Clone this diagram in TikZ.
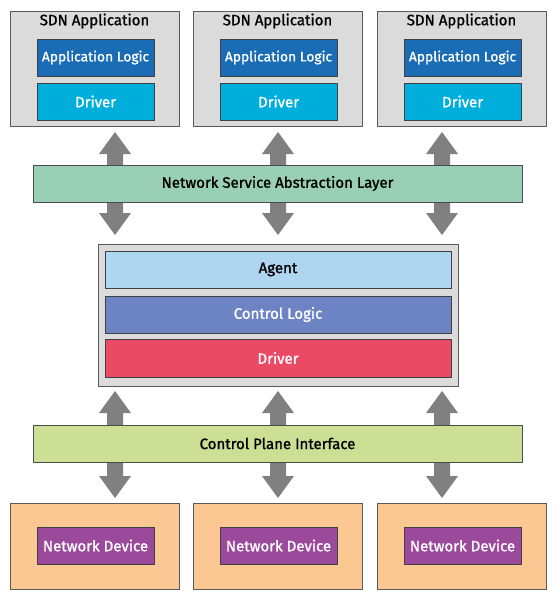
\documentclass[tikz,border=0pt]{standalone}
\usepackage{fontspec}
\setmainfont{Fira Sans}[BoldFont={Fira Sans},BoldFeatures={FakeBold=1.2}]
\begin{document}
\begin{tikzpicture}[x=1pt,y=-1pt,
  every node/.style={inner sep=0pt,font=\fontsize{15}{17}\selectfont\bfseries},
  outerbox/.style={draw=black!65,line width=0.8pt,fill=black!14},
  inbox/.style={draw=black!75,line width=0.7pt},
  layer/.style={draw=black!70,line width=0.7pt},
  wtext/.style={text=white},
  arrowgray/.style={fill=black!50}]
\definecolor{applogic}{HTML}{1A6DB5}
\definecolor{appdrv}{HTML}{00AEDB}
\definecolor{nsal}{HTML}{99CFB5}
\definecolor{agent}{HTML}{AED6F1}
\definecolor{ctrl}{HTML}{6C84C4}
\definecolor{mdrv}{HTML}{EA4A64}
\definecolor{cpi}{HTML}{CDDE95}
\definecolor{devbox}{HTML}{FBC894}
\definecolor{dev}{HTML}{9B4A9B}
\useasboundingbox[fill=white] (0,0) rectangle (557,600);
\newcommand{\dblarrow}[3]{% x, top, bottom
  \fill[arrowgray] (#1,#2) -- (#1+16,#2+22) -- (#1+8,#2+22) -- (#1+8,#3-22) -- (#1+16,#3-22) -- (#1,#3) -- (#1-16,#3-22) -- (#1-8,#3-22) -- (#1-8,#2+22) -- (#1-16,#2+22) -- cycle;}
% arrows
\foreach \cx in {115,278,442}{
  \dblarrow{\cx}{132}{235}
  \dblarrow{\cx}{391}{498}
}
% SDN applications
\foreach \i/\xa in {1/10,2/193,3/377}{
  \node[outerbox,minimum width=169,minimum height=115,anchor=north west] (app\i) at (\xa,11) {};
  \node (apptitle\i) at (\xa+84.5,21) {SDN Application};
  \node[inbox,fill=applogic,wtext,minimum width=117,minimum height=37,font=\fontsize{13.8}{16}\selectfont\bfseries] (logic\i) at (\xa+85.5,57.5) {Application Logic};
  \node[inbox,fill=appdrv,wtext,minimum width=117,minimum height=37] (adrv\i) at (\xa+85.5,101.5) {Driver};
}
% NSAL
\node[layer,fill=nsal,minimum width=489,minimum height=37] (nsal) at (277.5,183.5) {Network Service Abstraction Layer};
% Controller
\node[outerbox,minimum width=360,minimum height=142] (ctrlbox) at (278,315) {};
\node[inbox,fill=agent,minimum width=346,minimum height=37] (agentn) at (278,269.5) {Agent};
\node[inbox,fill=ctrl,wtext,minimum width=346,minimum height=37] (ctrln) at (278,314.5) {Control Logic};
\node[inbox,fill=mdrv,wtext,minimum width=346,minimum height=38] (mdrvn) at (278,358) {Driver};
% CPI
\node[layer,fill=cpi,minimum width=489,minimum height=37] (cpin) at (277.5,443.5) {Control Plane Interface};
% devices
\foreach \i/\xa in {1/10,2/193,3/377}{
  \node[outerbox,fill=devbox,minimum width=169,minimum height=86,anchor=north west] (devb\i) at (\xa,503) {};
  \node[inbox,fill=dev,wtext,minimum width=117,minimum height=37] (devn\i) at (\xa+85.5,545.5) {Network Device};
}
\end{tikzpicture}
\end{document}
